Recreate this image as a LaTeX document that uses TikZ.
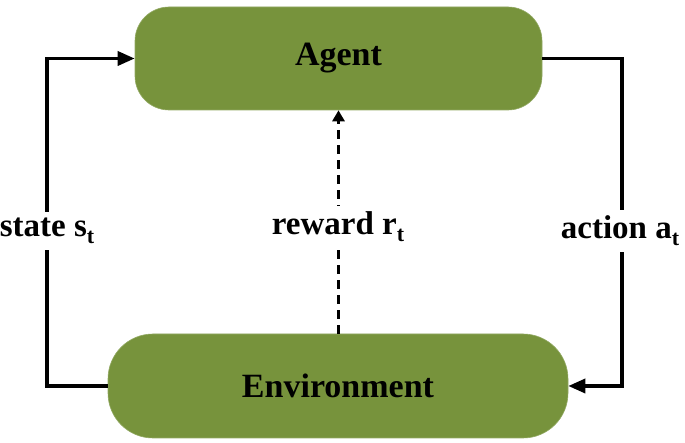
\documentclass[tikz,border=0pt]{standalone}
\usepackage{fontspec}
\setmainfont{Liberation Serif}
\usetikzlibrary{arrows.meta}
\definecolor{olive}{HTML}{77933C}
\newcommand{\subt}{\raisebox{-0.22em}{\fontsize{22}{22}\selectfont t}}
\begin{document}
\begin{tikzpicture}[x=1pt,y=1pt,
  boxnode/.style={fill=olive, draw=olive!80!white, line width=0.6pt, inner sep=0pt,
    font=\fontsize{34}{34}\selectfont\bfseries, text=black},
  lbl/.style={fill=white, inner xsep=1pt, inner ysep=6pt,
    font=\fontsize{33}{33}\selectfont\bfseries},
  conn/.style={line width=3.4pt, line join=miter},
  tip/.style={-{Triangle[length=17pt,width=14pt]}},
  dtip/.style={-{Triangle[length=11pt,width=12pt]}}]
\useasboundingbox (0,0) rectangle (685,443);
\node[boxnode, rounded corners=34pt, minimum width=407pt, minimum height=103pt] (agent) at (338.5,384.5) {Agent};
\node[boxnode, rounded corners=45pt, minimum width=460pt, minimum height=104pt] (env) at (338,57) {Environment};
\coordinate (ll) at (47,0);
\coordinate (rr) at (622,0);
\draw[conn, tip] (env.west) -- (env.west -| ll) -- (agent.west -| ll) -- (agent.west);
\draw[conn, tip] (agent.east) -- (agent.east -| rr) -- (env.east -| rr) -- (env.east);
\draw[conn, line width=3pt, dash pattern=on 9pt off 6pt, dtip] (env.north -| agent.south) -- (agent.south);
\node[lbl] (state) at (47,212) {state s\subt};
\node[lbl] (reward) at (338,216) {reward r\subt};
\node[lbl] (action) at (620,212) {action a\subt};
\end{tikzpicture}
\end{document}
